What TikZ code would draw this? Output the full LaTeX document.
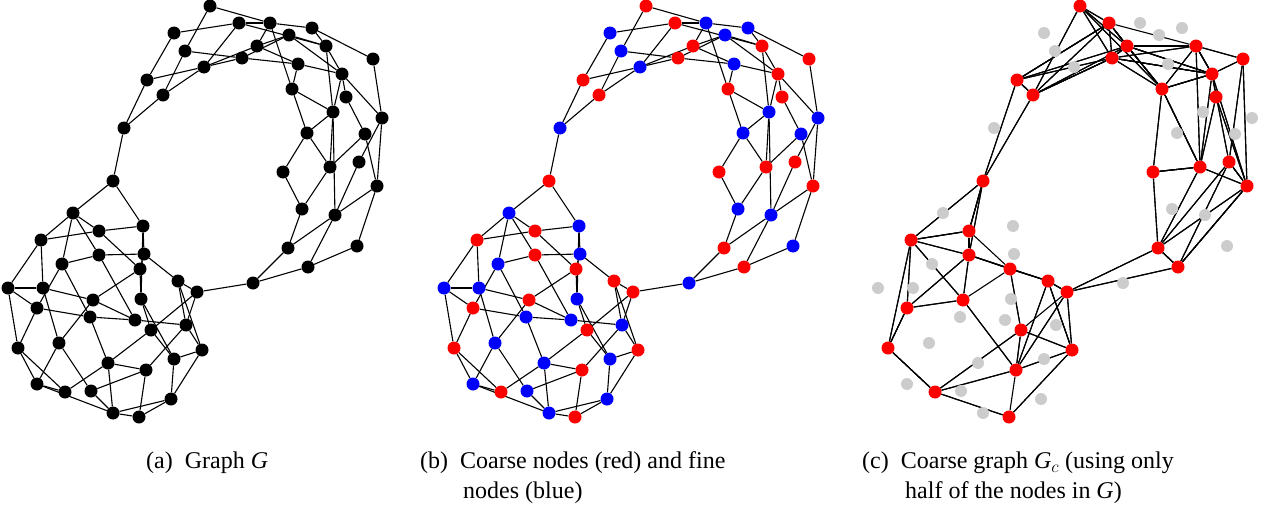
\documentclass[tikz,border=0pt]{standalone}
\usepackage{fontspec}
\setmainfont{Liberation Serif}
\usetikzlibrary{backgrounds}
\tikzset{
  dot/.style={circle, inner sep=0pt, minimum size=13pt},
  blk/.style={dot, fill=black},
  gry/.style={dot, fill=black!20, minimum size=12pt},
  edge/.style={line width=1.1pt},
  caption/.style={font=\fontsize{24}{28}\selectfont, anchor=west, inner sep=0pt}
}
% node positions (x, y in px) and type: r coarse, f fine
\def\pts{A1/113/181/r, A2/73/213/f, A3/143/226/f, A4/99/231/r, A5/41/240/r,
 A6/99/255/r, A7/144/254/f, A8/62/264/f, A9/140/269/r, A10/178/281/r,
 A11/8/288/f, A12/43/288/f, A13/197/292/r, A14/93/300/r, A15/141/299/f,
 A16/37/308/r, A17/90/317/f, A18/135/320/f, A19/151/330/r, A20/186/325/f,
 A21/18/348/r, A22/59/343/f, A23/202/350/r, A24/174/359/f, A25/108/363/f,
 A26/146/370/r, A27/37/384/f, A28/65/392/r, A29/91/391/f, A30/171/399/f,
 A31/113/413/f, A32/139/417/r,
 B1/210/6/r, B2/239/23/r, B3/270/23/f, B4/312/28/f, B5/174/33/f,
 B6/289/35/f, B7/326/46/r, B8/257/46/r, B9/185/51/f, B10/242/58/r,
 B11/373/59/r, B12/298/64/f, B13/204/67/f, B14/342/74/r, B15/147/80/r,
 B16/292/89/r, B17/163/95/r, B18/346/97/r, B19/333/112/f, B20/382/118/f,
 B21/124/128/f, B22/307/133/f, B23/365/134/f, B24/330/167/r, B25/359/162/r,
 B26/283/172/r, B27/377/186/r, B28/302/209/f, B29/335/215/f, B30/288/248/r,
 B31/357/246/f, B32/308/267/r, B33/253/283/f}
\def\edges{A1/A2, A1/A3, A1/B21, A2/A4, A2/A6, A2/A8, A2/A5, A5/A4, A4/A3,
 A5/A11, A5/A12, A3/A7, A3/A15, A4/A9, A6/A7, A6/A8, A6/A18, A7/A10, A7/A9,
 A9/A14, A9/A15, A8/A17, A8/A16, A10/A13, A10/A20, A10/A23, A11/A12, A11/A16,
 A11/A21, A12/A14, A12/A22, A13/B33, A13/A20, A13/A19, A14/A22, A14/A18,
 A16/A21, A16/A17, A17/A18, A17/A25, A18/A20, A15/A24, A19/A25, A19/A15,
 A19/A24, A20/A26, A20/A23, A21/A27, A21/A28, A22/A27, A22/A29, A23/A24,
 A23/A30, A24/A30, A25/A28, A25/A31, A25/A26, A26/A29, A26/A32, A27/A28,
 A27/A31, A29/A31, A30/A31, A30/A32, A31/A32,
 B1/B3, B1/B9, B2/B5, B2/B3, B2/B13, B2/B7, B3/B4, B3/B8, B3/B16, B4/B11,
 B4/B7, B6/B8, B6/B10, B6/B7, B6/B14, B5/B15, B8/B12, B8/B13, B9/B10, B9/B17,
 B10/B13, B10/B12, B11/B20, B12/B14, B12/B16, B7/B19, B7/B14, B13/B15,
 B13/B17, B14/B20, B14/B18, B14/B19, B15/B21, B16/B19, B16/B22, B17/B21,
 B18/B23, B19/B22, B19/B24, B19/B29, B20/B25, B20/B27, B22/B26, B22/B24,
 B23/B24, B23/B27, B25/B29, B26/B28, B27/B29, B27/B31, B28/B30, B28/B24,
 B29/B30, B29/B32, B30/B33, B31/B32, B32/B33}
\begin{document}
\begin{tikzpicture}[x=1pt, y=-1pt]
\useasboundingbox (0,0) rectangle (1262,506);
% (a) and (b): the same graph
\foreach \n/\x/\y/\k in \pts {
  \node[blk] (a\n) at (\x,\y) {};
  \if\k r\node[dot, fill=red] (b\n) at (\x+436,\y) {};
  \else\node[dot, fill=blue] (b\n) at (\x+436,\y) {};\fi
  \if\k r\node[dot, fill=red] (c\n) at (\x+870,\y) {};
  \else\node[gry] (c\n) at (\x+870,\y) {};\fi
}
\begin{scope}[on background layer]
\foreach \u/\v in \edges {
  \draw[edge] (a\u) -- (a\v);
  \draw[edge] (b\u) -- (b\v);
}
% (c): coarse nodes joined through a common fine node
\foreach \f/\cs in {A2/{A1,A4,A6,A5}, A3/{A1,A4}, A7/{A6,A10,A9}, A8/{A6,A16},
  A11/{A5,A16,A21}, A12/{A5,A14}, A15/{A9,A19}, A17/{A16,A14}, A18/{A6,A14},
  A20/{A10,A13,A26,A23}, A24/{A19,A23}, A25/{A19,A28,A26}, A27/{A21,A28},
  A29/{A26,A14}, A30/{A23,A32}, A31/{A32,A28}, B3/{B1,B2,B8,B16}, B4/{B11,B7},
  B5/{B2,B15}, B6/{B8,B10,B7,B14}, B9/{B1,B10,B17}, B12/{B8,B10,B14,B16},
  B13/{B2,B8,B10,B15,B17}, B19/{B7,B14,B16,B24}, B20/{B11,B14,B25,B27},
  B21/{A1,B15,B17}, B22/{B16,B26,B24}, B23/{B18,B24,B27}, B28/{B26,B30,B24},
  B29/{B25,B27,B30,B32}, B31/{B27,B32}, B33/{A13,B30,B32}} {
  \foreach \p in \cs { \foreach \q in \cs {
    \ifx\p\q\else\draw[edge] (c\p) -- (c\q);\fi } }
}
\foreach \u/\v in {A4/A5, A4/A9, A9/A14, A10/A13, A10/A23, A13/A19, A16/A21,
  A21/A28, A26/A32, B2/B7, B7/B14, B14/B18}
  \draw[edge] (c\u) -- (c\v);
\end{scope}
% captions
\node[caption] (capa) at (146,463) {(a)\enspace Graph \textit{G}};
\node[caption] (capb) at (420,463) {(b)\enspace Coarse nodes (red) and fine};
\node[caption] (capb2) at (463,493) {nodes (blue)};
\node[caption] (capc) at (862,463) {(c)\enspace Coarse graph \textit{G}$_c$ (using only};
\node[caption] (capc2) at (905,493) {half of the nodes in \textit{G})};
\end{tikzpicture}
\end{document}
